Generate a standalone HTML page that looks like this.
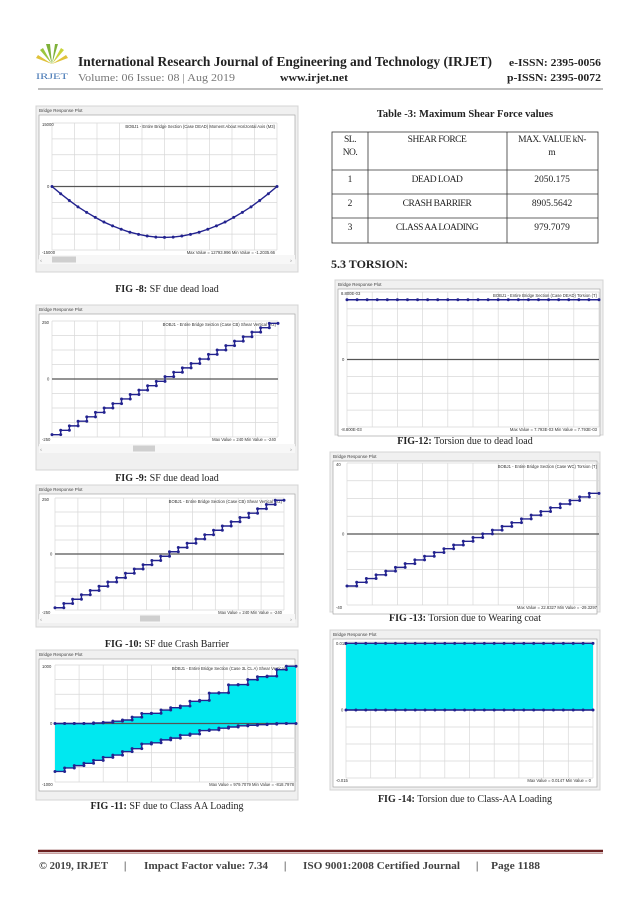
<!DOCTYPE html>
<html><head><meta charset="utf-8">
<style>
html,body{margin:0;padding:0;background:#fff;}
svg{display:block;}
.serif{font-family:"Liberation Serif",serif;}
.sans{font-family:"Liberation Sans",sans-serif;}
</style></head>
<body>
<svg id="page" width="638" height="902" viewBox="0 0 638 902" xmlns="http://www.w3.org/2000/svg">
  <!-- header -->
  <g>
    <path d="M52 64 L46 44 L50 44 Z" fill="#7fb13a"/>
    <path d="M52 64 L40 50 L43 48 Z" fill="#9bc53d"/>
    <path d="M52 64 L58 44 L55 44 Z" fill="#7fb13a"/>
    <path d="M52 64 L64 50 L61 48 Z" fill="#c8d43a"/>
    <path d="M52 64 L36 58 L38 55 Z" fill="#e0c23a"/>
    <path d="M52 64 L68 58 L66 55 Z" fill="#e0c23a"/>
    <text x="36" y="79" class="serif" font-size="8" fill="#3a6fb0" textLength="32" lengthAdjust="spacingAndGlyphs">IRJET</text>
  </g>
  <text x="78" y="66" class="serif" font-size="14" font-weight="bold" fill="#222" textLength="414" lengthAdjust="spacingAndGlyphs">International Research Journal of Engineering and Technology (IRJET)</text>
  <text x="509" y="66" class="serif" font-size="11" font-weight="bold" fill="#222" textLength="92" lengthAdjust="spacingAndGlyphs">e-ISSN: 2395-0056</text>
  <text x="78" y="81" class="serif" font-size="11" fill="#777" textLength="157" lengthAdjust="spacingAndGlyphs">Volume: 06 Issue: 08 | Aug 2019</text>
  <text x="280" y="81" class="serif" font-size="11" font-weight="bold" fill="#222" textLength="68" lengthAdjust="spacingAndGlyphs">www.irjet.net</text>
  <text x="507" y="81" class="serif" font-size="11" font-weight="bold" fill="#222" textLength="94" lengthAdjust="spacingAndGlyphs">p-ISSN: 2395-0072</text>
  <line x1="38" y1="89" x2="603" y2="89" stroke="#aaa" stroke-width="1.5"/>

  <!-- table -->
  <text x="465" y="117" class="serif" font-size="10.5" font-weight="bold" text-anchor="middle" fill="#222">Table -3: Maximum Shear Force values</text>
  <g class="serif" font-size="9.5" fill="#222" text-anchor="middle">
    <rect x="332" y="132" width="266" height="111" fill="none" stroke="#333" stroke-width="0.8"/>
    <line x1="368" y1="132" x2="368" y2="243" stroke="#333" stroke-width="0.8"/>
    <line x1="507" y1="132" x2="507" y2="243" stroke="#333" stroke-width="0.8"/>
    <line x1="332" y1="170" x2="598" y2="170" stroke="#333" stroke-width="0.8"/>
    <line x1="332" y1="194" x2="598" y2="194" stroke="#333" stroke-width="0.8"/>
    <line x1="332" y1="218" x2="598" y2="218" stroke="#333" stroke-width="0.8"/>
    <text x="350" y="142" letter-spacing="-0.5">SL.</text>
    <text x="350" y="155" letter-spacing="-0.5">NO.</text>
    <text x="437" y="142" letter-spacing="-0.5">SHEAR FORCE</text>
    <text x="552" y="142" letter-spacing="-0.5">MAX. VALUE kN-</text>
    <text x="552" y="155">m</text>
    <text x="350" y="182">1</text><text x="437" y="182" letter-spacing="-0.5">DEAD LOAD</text><text x="552" y="182">2050.175</text>
    <text x="350" y="206">2</text><text x="437" y="206" letter-spacing="-0.5">CRASH BARRIER</text><text x="552" y="206">8905.5642</text>
    <text x="350" y="230">3</text><text x="437" y="230" letter-spacing="-0.5">CLASS AA LOADING</text><text x="552" y="230">979.7079</text>
  </g>
  <text x="331" y="268" class="serif" font-size="12" font-weight="bold" fill="#222">5.3 TORSION:</text>

  <!-- captions -->
  <g class="serif" font-size="10" fill="#222" text-anchor="middle">
    <text x="167" y="292"><tspan font-weight="bold">FIG -8:</tspan> SF due dead load</text>
    <text x="167" y="481"><tspan font-weight="bold">FIG -9:</tspan> SF due dead load</text>
    <text x="167" y="647"><tspan font-weight="bold">FIG -10:</tspan> SF due Crash Barrier</text>
    <text x="167" y="809"><tspan font-weight="bold">FIG -11:</tspan> SF due to Class AA Loading</text>
    <text x="465" y="444"><tspan font-weight="bold">FIG-12:</tspan> Torsion due to dead load</text>
    <text x="465" y="621"><tspan font-weight="bold">FIG -13:</tspan> Torsion due to Wearing coat</text>
    <text x="465" y="802"><tspan font-weight="bold">FIG -14:</tspan> Torsion due to Class-AA Loading</text>
  </g>

  <g id="charts"></g>

  <!-- footer -->
  <line x1="38" y1="851" x2="603" y2="851" stroke="#6b1f1f" stroke-width="2.5"/>
  <line x1="38" y1="853.5" x2="603" y2="853.5" stroke="#c9a0a0" stroke-width="1"/>
  <g class="serif" font-size="10.5" font-weight="bold" fill="#444">
    <text x="39" y="869" textLength="69" lengthAdjust="spacingAndGlyphs">© 2019, IRJET</text>
    <text x="124" y="869">|</text>
    <text x="144" y="869" textLength="124" lengthAdjust="spacingAndGlyphs">Impact Factor value: 7.34</text>
    <text x="284" y="869">|</text>
    <text x="303" y="869" textLength="157" lengthAdjust="spacingAndGlyphs">ISO 9001:2008 Certified Journal</text>
    <text x="476" y="869">|</text>
    <text x="491" y="869" textLength="49" lengthAdjust="spacingAndGlyphs">Page 1188</text>
  </g>
</svg>

<script>
// ---- chart data ----
const fig8Moment = [0,-1700,-3300,-4800,-6100,-7300,-8400,-9300,-10100,-10800,-11300,-11700,-11950,-12030,-11950,-11700,-11300,-10800,-10100,-9300,-8400,-7300,-6100,-4800,-3300,-1700,0];
const fig9Shear = [-240,-221,-202,-182,-163,-144,-125,-106,-86,-67,-48,-29,-10,10,29,48,67,86,106,125,144,163,182,202,221,240];
const fig10Shear = [-240,-221,-202,-182,-163,-144,-125,-106,-86,-67,-48,-29,-10,10,29,48,67,86,106,125,144,163,182,202,221,240];
const fig11Upper = [0,0,0,0,10,20,40,60,110,170,175,230,270,300,380,395,520,525,660,665,750,800,810,920,979];
const fig11Lower = [-820,-760,-720,-680,-630,-580,-540,-480,-430,-350,-330,-280,-250,-200,-180,-120,-110,-80,-60,-40,-30,-20,-10,0,0];
const fig12Torsion = [0.00779,0.00779,0.00779,0.00779,0.00779,0.00779,0.00779,0.00779,0.00779,0.00779,0.00779,0.00779,0.00779,0.00779,0.00779,0.00779,0.00779,0.00779,0.00779,0.00779,0.00779,0.00779,0.00779,0.00779,0.00779,0.00779];
const fig13Torsion = [-29.3,-27.2,-25.1,-23.0,-20.9,-18.8,-16.7,-14.6,-12.5,-10.4,-8.3,-6.2,-4.1,-2.0,0.1,2.2,4.3,6.4,8.5,10.6,12.7,14.8,16.9,18.9,20.9,22.9];
const fig14Upper = [0.0147,0.0147,0.0147,0.0147,0.0147,0.0147,0.0147,0.0147,0.0147,0.0147,0.0147,0.0147,0.0147,0.0147,0.0147,0.0147,0.0147,0.0147,0.0147,0.0147,0.0147,0.0147,0.0147,0.0147,0.0147,0.0147];
const fig14Lower = [0,0,0,0,0,0,0,0,0,0,0,0,0,0,0,0,0,0,0,0,0,0,0,0,0,0];
const axisTopLabels = ["15000","250","250","1000","8.800E-03","40","0.015"];
const axisBottomLabels = ["-15000","-250","-250","-1000","-8.800E-03","-40","-0.015"];
const axisMax = [15000,250,250,1000,0.0088,40,0.015];
const headerTexts = [
 "BOBJ1 - Entire Bridge Section  (Case DEAD)  Moment About Horizontal Axis (M3)",
 "BOBJ1 - Entire Bridge Section  (Case CB)  Shear Vertical (V2)",
 "BOBJ1 - Entire Bridge Section  (Case CB)  Shear Vertical (V2)",
 "BOBJ1 - Entire Bridge Section  (Case 3L CL A)  Shear Vertical (V2)",
 "BOBJ1 - Entire Bridge Section  (Case DEAD)  Torsion (T)",
 "BOBJ1 - Entire Bridge Section  (Case WC)  Torsion (T)",
 "BOBJ1 - Entire Bridge Section  (Case 3L CL A)  Torsion (T)"];
const footerTexts = [
 "Max Value = 12793.996   Min Value = -1.2035.66",
 "Max Value = 240   Min Value = -240",
 "Max Value = 240   Min Value = -240",
 "Max Value = 979.7079   Min Value = -818.7978",
 "Max Value = 7.793E-03   Min Value = 7.793E-03",
 "Max Value = 22.8327   Min Value = -29.3297",
 "Max Value = 0.0147   Min Value = 0"];

const NS = "http://www.w3.org/2000/svg";
const root = document.getElementById('charts');
function mk(tag, attrs, parent){
  const e = document.createElementNS(NS, tag);
  for (const k in attrs) e.setAttribute(k, attrs[k]);
  parent.appendChild(e);
  return e;
}
const NAVY = "#23238f";

const layouts = [
 {box:[36,106,262,166], plot:[52,123,225,127], scroll:[255,52,24]},
 {box:[36,305,262,165], plot:[52,321,226,116], scroll:[444,133,22]},
 {box:[36,485,262,142], plot:[55,498,229,112], scroll:[614,140,20]},
 {box:[36,650,262,150], plot:[55,665,241,117], scroll:null},
 {box:[335,280,268,155], plot:[347,292,252,135], scroll:null},
 {box:[330,452,270,160], plot:[347,463,252,142], scroll:null},
 {box:[330,630,270,160], plot:[346,642,247,136], scroll:null}
];
const chartNames = ["fig-8-chart","fig-9-chart","fig-10-chart","fig-11-chart","fig-12-chart","fig-13-chart","fig-14-chart"];

function frame(i){
  const L = layouts[i];
  const g = mk('g', {}, root);
  
  
  const [bx,by,bw,bh] = L.box, [px,py,pw,ph] = L.plot;
  mk('rect',{x:bx,y:by,width:bw,height:bh,fill:"#f0f0f0",stroke:"#d4d4d4"},g);
  const t = mk('text',{x:bx+3,y:by+6,"font-size":4.5,fill:"#444","font-family":"Liberation Sans, sans-serif"},g);
  t.textContent = "Bridge Response Plot";
  
  
  mk('rect',{x:bx+3,y:by+9,width:bw-6,height:py+ph+9-(by+9),fill:"#fff",stroke:"#999","stroke-width":0.6},g);
  for (let c=0;c<=10;c++){
    const x = px + c*pw/10;
    mk('line',{x1:x,y1:py,x2:x,y2:py+ph,stroke:"#d8d8d8","stroke-width":0.7},g);
  }
  for (let r=0;r<=8;r++){
    const y = py + r*ph/8;
    mk('line',{x1:px,y1:y,x2:px+pw,y2:y,stroke:"#d8d8d8","stroke-width":0.7},g);
  }
  const fs = {"font-size":4.2,fill:"#333","font-family":"Liberation Sans, sans-serif"};
  let e = mk('text',Object.assign({x:bx+6,y:py+3},fs),g); e.textContent = axisTopLabels[i];
   
  e = mk('text',Object.assign({x:bx+6,y:py+ph+4},fs),g); e.textContent = axisBottomLabels[i];
   
  e = mk('text',Object.assign({x:px-5,y:py+ph/2+1.5},fs),g); e.textContent = "0";
   
  e = mk('text',Object.assign({x:px+pw-2,y:py+5,"text-anchor":"end"},fs),g); e.textContent = headerTexts[i];
   
  e = mk('text',Object.assign({x:px+pw-2,y:py+ph+4,"text-anchor":"end"},fs),g); e.textContent = footerTexts[i];
   
  if (L.scroll){
    const [sy,tx,tw] = L.scroll;
    const sb = mk('g',{},g);
     
    mk('rect',{x:bx+3,y:sy,width:bw-6,height:9,fill:"#f7f7f7"},sb);
    mk('rect',{x:tx,y:sy+1.5,width:tw,height:6,fill:"#cfcfcf"},sb);
    let a = mk('text',{x:bx+4,y:sy+7,"font-size":6,fill:"#777"},sb); a.textContent="‹";
    a = mk('text',{x:bx+bw-8,y:sy+7,"font-size":6,fill:"#777"},sb); a.textContent="›";
  }
  const max = axisMax[i];
  const yScale = v => py + ph/2 - v/max*(ph/2);
  return {g, px, py, pw, ph, yScale};
}
function zeroLine(c){
  const z = mk('line',{x1:c.px,y1:c.yScale(0),x2:c.px+c.pw,y2:c.yScale(0),stroke:"#555","stroke-width":1.3},c.g);
   
}
function linePts(c, vals){
  const n = vals.length;
  return vals.map((v,k)=>[c.px + k*c.pw/(n-1), c.yScale(v)]);
}
function stepPts(c, vals){
  const n = vals.length, pts = [];
  vals.forEach((v,k)=>{
    pts.push([c.px + k*c.pw/n, c.yScale(v)]);
    pts.push([c.px + (k+1)*c.pw/n, c.yScale(v)]);
  });
  return pts;
}
function series(c, pts, name){
  const s = mk('g',{},c.g);
  
  
  mk('polyline',{points:pts.map(p=>p.join(',')).join(' '),fill:"none",stroke:NAVY,"stroke-width":1.4},s);
  pts.forEach(p=>{
    const d = mk('circle',{cx:p[0],cy:p[1],r:1.5,fill:NAVY},s);
    
    
  });
}
function band(c, up, lo){
  const poly = up.concat(lo.slice().reverse());
  const f = mk('polygon',{points:poly.map(p=>p.join(',')).join(' '),fill:"#00e8f0"},c.g);
  
  
}

// FIG-8
let c = frame(0); zeroLine(c); series(c, linePts(c, fig8Moment), 'moment-series');
// FIG-9
c = frame(1); zeroLine(c); series(c, stepPts(c, fig9Shear), 'shear-series');
// FIG-10
c = frame(2); zeroLine(c); series(c, stepPts(c, fig10Shear), 'shear-series');
// FIG-11
c = frame(3);
{ const up = stepPts(c, fig11Upper), lo = stepPts(c, fig11Lower);
  band(c, up, lo); zeroLine(c); series(c, up, 'shear-max-series'); series(c, lo, 'shear-min-series'); }
// FIG-12
c = frame(4); zeroLine(c); series(c, linePts(c, fig12Torsion), 'torsion-series');
// FIG-13
c = frame(5); zeroLine(c); series(c, stepPts(c, fig13Torsion), 'torsion-series');
// FIG-14
c = frame(6);
{ const up = linePts(c, fig14Upper), lo = linePts(c, fig14Lower);
  band(c, up, lo); zeroLine(c); series(c, up, 'torsion-max-series'); series(c, lo, 'torsion-min-series'); }
</script>
</body></html>
